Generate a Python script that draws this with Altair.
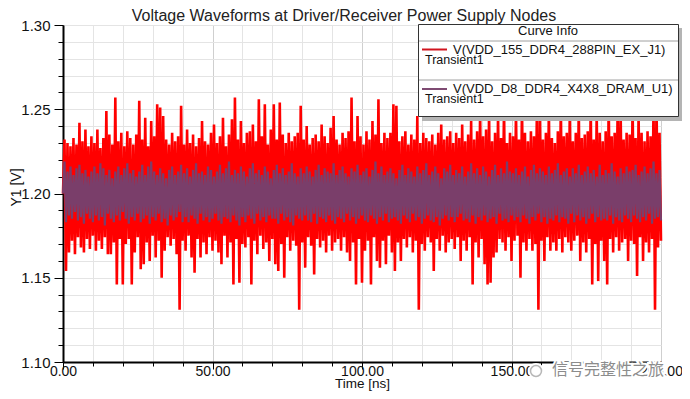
import altair as alt
import pandas as pd

# ---------------- data ----------------
x_ticks = [0, 10, 20, 30, 40, 50, 60, 70, 80, 90, 100, 110, 120, 130, 140, 150,
           160, 170, 180, 190, 200]
y_ticks = [1.10, 1.11, 1.12, 1.13, 1.14, 1.15, 1.16, 1.17, 1.18, 1.19, 1.20,
           1.21, 1.22, 1.23, 1.24, 1.25, 1.26, 1.27, 1.28, 1.29, 1.30]

start_value = 1.200

# red trace: local maxima (t = k + 0.5 ns) and minima (t = k + 1 ns)
red_high = [
    1.232, 1.230, 1.228, 1.233, 1.229, 1.242, 1.231, 1.238, 1.228, 1.234,
    1.230, 1.238, 1.227, 1.233, 1.249, 1.235, 1.229, 1.257, 1.231, 1.236,
    1.228, 1.237, 1.233, 1.229, 1.235, 1.255, 1.232, 1.245, 1.228, 1.243,
    1.234, 1.253, 1.251, 1.246, 1.232, 1.229, 1.236, 1.231, 1.234, 1.252,
    1.229, 1.238, 1.230, 1.235, 1.228, 1.233, 1.243, 1.231, 1.229, 1.236,
    1.241, 1.230, 1.234, 1.245, 1.228, 1.235, 1.244, 1.257, 1.232, 1.243,
    1.230, 1.236, 1.237, 1.241, 1.231, 1.256, 1.234, 1.253, 1.229, 1.238,
    1.253, 1.232, 1.254, 1.235, 1.230, 1.236, 1.231, 1.234, 1.236, 1.252,
    1.232, 1.240, 1.229, 1.233, 1.235, 1.231, 1.241, 1.234, 1.230, 1.239,
    1.246, 1.232, 1.229, 1.236, 1.233, 1.237, 1.257, 1.231, 1.246, 1.234,
    1.229, 1.237, 1.232, 1.243, 1.235, 1.256, 1.230, 1.236, 1.233, 1.236,
    1.253, 1.252, 1.231, 1.234, 1.237, 1.229, 1.235, 1.232, 1.246, 1.230,
    1.236, 1.233, 1.231, 1.235, 1.229, 1.236, 1.241, 1.232, 1.234, 1.237,
    1.230, 1.236, 1.233, 1.241, 1.231, 1.235, 1.243, 1.232, 1.237, 1.248,
    1.234, 1.238, 1.250, 1.231, 1.236, 1.247, 1.233, 1.252, 1.230, 1.236,
    1.234, 1.249, 1.232, 1.254, 1.236, 1.231, 1.237, 1.234, 1.251, 1.248,
    1.232, 1.236, 1.250, 1.233, 1.230, 1.237, 1.252, 1.234, 1.236, 1.249,
    1.231, 1.236, 1.251, 1.233, 1.235, 1.237, 1.253, 1.232, 1.248, 1.236,
    1.231, 1.237, 1.255, 1.234, 1.236, 1.250, 1.249, 1.232, 1.236, 1.235,
    1.252, 1.233, 1.247, 1.236, 1.231, 1.237, 1.234, 1.251, 1.254, 1.236,
]
red_low = [
    1.154, 1.165, 1.172, 1.164, 1.174, 1.168, 1.165, 1.173, 1.167, 1.175,
    1.166, 1.172, 1.167, 1.174, 1.164, 1.164, 1.171, 1.146, 1.173, 1.146,
    1.170, 1.173, 1.146, 1.165, 1.174, 1.155, 1.158, 1.171, 1.160, 1.175,
    1.162, 1.172, 1.150, 1.166, 1.174, 1.169, 1.173, 1.164, 1.131, 1.172,
    1.166, 1.175, 1.162, 1.153, 1.173, 1.162, 1.171, 1.164, 1.174, 1.166,
    1.172, 1.165, 1.158, 1.175, 1.162, 1.171, 1.146, 1.173, 1.147, 1.170,
    1.168, 1.174, 1.146, 1.172, 1.164, 1.175, 1.167, 1.171, 1.160, 1.173,
    1.158, 1.154, 1.170, 1.150, 1.174, 1.166, 1.172, 1.169, 1.131, 1.171,
    1.156, 1.174, 1.169, 1.152, 1.173, 1.168, 1.172, 1.165, 1.175, 1.166,
    1.171, 1.173, 1.166, 1.174, 1.165, 1.160, 1.171, 1.146, 1.173, 1.147,
    1.166, 1.172, 1.146, 1.174, 1.160, 1.156, 1.172, 1.158, 1.175, 1.165,
    1.154, 1.171, 1.160, 1.173, 1.168, 1.174, 1.165, 1.172, 1.131, 1.170,
    1.166, 1.174, 1.171, 1.154, 1.173, 1.166, 1.175, 1.165, 1.171, 1.173,
    1.167, 1.174, 1.160, 1.172, 1.166, 1.174, 1.146, 1.171, 1.162, 1.173,
    1.158, 1.146, 1.147, 1.162, 1.165, 1.173, 1.171, 1.166, 1.174, 1.160,
    1.172, 1.175, 1.150, 1.171, 1.166, 1.173, 1.166, 1.170, 1.131, 1.172,
    1.160, 1.174, 1.166, 1.171, 1.166, 1.173, 1.165, 1.174, 1.171, 1.166,
    1.172, 1.175, 1.160, 1.171, 1.165, 1.173, 1.146, 1.170, 1.148, 1.172,
    1.160, 1.146, 1.173, 1.165, 1.174, 1.166, 1.171, 1.173, 1.160, 1.172,
    1.170, 1.151, 1.174, 1.160, 1.171, 1.165, 1.173, 1.131, 1.168, 1.172,
]

# purple trace
purple_high = [
    1.219, 1.213, 1.216, 1.211, 1.215, 1.217, 1.212, 1.214, 1.210, 1.213,
    1.216, 1.212, 1.218, 1.215, 1.211, 1.214, 1.209, 1.213, 1.216, 1.211,
    1.215, 1.218, 1.212, 1.214, 1.210, 1.213, 1.217, 1.211, 1.216, 1.219,
    1.213, 1.211, 1.215, 1.212, 1.209, 1.214, 1.216, 1.211, 1.213, 1.217,
    1.212, 1.215, 1.210, 1.214, 1.218, 1.212, 1.213, 1.211, 1.216, 1.214,
    1.210, 1.213, 1.217, 1.212, 1.215, 1.219, 1.211, 1.214, 1.212, 1.216,
    1.213, 1.210, 1.215, 1.218, 1.212, 1.214, 1.211, 1.216, 1.213, 1.209,
    1.214, 1.217, 1.212, 1.215, 1.211, 1.213, 1.218, 1.212, 1.210, 1.215,
    1.212, 1.216, 1.213, 1.210, 1.214, 1.217, 1.211, 1.215, 1.213, 1.212,
    1.218, 1.211, 1.214, 1.216, 1.212, 1.210, 1.215, 1.213, 1.217, 1.211,
    1.213, 1.215, 1.210, 1.214, 1.219, 1.212, 1.216, 1.211, 1.213, 1.215,
    1.212, 1.209, 1.214, 1.217, 1.211, 1.215, 1.213, 1.210, 1.216, 1.212,
    1.214, 1.218, 1.211, 1.213, 1.216, 1.212, 1.209, 1.215, 1.213, 1.217,
    1.211, 1.214, 1.212, 1.216, 1.210, 1.213, 1.218, 1.212, 1.215, 1.211,
    1.216, 1.213, 1.210, 1.214, 1.217, 1.211, 1.215, 1.212, 1.219, 1.213,
    1.212, 1.215, 1.211, 1.213, 1.216, 1.210, 1.214, 1.217, 1.212, 1.215,
    1.213, 1.211, 1.216, 1.212, 1.214, 1.218, 1.211, 1.213, 1.215, 1.210,
    1.215, 1.212, 1.217, 1.211, 1.213, 1.216, 1.212, 1.214, 1.210, 1.217,
    1.211, 1.214, 1.212, 1.218, 1.213, 1.210, 1.215, 1.212, 1.216, 1.213,
    1.214, 1.217, 1.211, 1.213, 1.216, 1.212, 1.215, 1.219, 1.212, 1.214,
]
purple_low = [
    1.183, 1.187, 1.185, 1.189, 1.184, 1.186, 1.182, 1.188, 1.185, 1.183,
    1.187, 1.184, 1.186, 1.181, 1.188, 1.185, 1.183, 1.187, 1.184, 1.189,
    1.185, 1.182, 1.186, 1.184, 1.188, 1.183, 1.185, 1.187, 1.182, 1.186,
    1.184, 1.188, 1.183, 1.185, 1.181, 1.187, 1.184, 1.186, 1.189, 1.183,
    1.186, 1.183, 1.187, 1.185, 1.182, 1.188, 1.184, 1.186, 1.183, 1.185,
    1.188, 1.184, 1.182, 1.186, 1.185, 1.183, 1.187, 1.184, 1.181, 1.186,
    1.183, 1.187, 1.185, 1.182, 1.188, 1.184, 1.186, 1.183, 1.187, 1.185,
    1.185, 1.182, 1.188, 1.184, 1.186, 1.183, 1.181, 1.187, 1.185, 1.184,
    1.187, 1.184, 1.183, 1.188, 1.182, 1.186, 1.185, 1.183, 1.187, 1.184,
    1.182, 1.186, 1.185, 1.183, 1.188, 1.184, 1.186, 1.182, 1.185, 1.187,
    1.184, 1.183, 1.187, 1.185, 1.182, 1.186, 1.184, 1.188, 1.183, 1.185,
    1.186, 1.184, 1.182, 1.187, 1.185, 1.183, 1.188, 1.184, 1.186, 1.182,
    1.185, 1.187, 1.184, 1.183, 1.186, 1.181, 1.185, 1.187, 1.184, 1.186,
    1.183, 1.186, 1.188, 1.184, 1.185, 1.183, 1.187, 1.182, 1.186, 1.184,
    1.187, 1.183, 1.185, 1.186, 1.182, 1.188, 1.184, 1.185, 1.183, 1.187,
    1.184, 1.186, 1.183, 1.187, 1.185, 1.182, 1.186, 1.184, 1.188, 1.183,
    1.186, 1.182, 1.185, 1.184, 1.187, 1.183, 1.186, 1.185, 1.182, 1.188,
    1.183, 1.187, 1.184, 1.186, 1.182, 1.185, 1.188, 1.183, 1.186, 1.184,
    1.185, 1.184, 1.187, 1.182, 1.186, 1.184, 1.183, 1.187, 1.185, 1.183,
    1.187, 1.185, 1.183, 1.186, 1.184, 1.188, 1.182, 1.185, 1.186, 1.184,
]

title_text = "Voltage Waveforms at Driver/Receiver Power Supply Nodes"
legend_header = "Curve Info"
series_names = ["V(VDD_155_DDR4_288PIN_EX_J1)", "V(VDD_D8_DDR4_X4X8_DRAM_U1)"]
series_sub = "Transient1"
watermark = "信号完整性之旅"

RED = "#FF0000"
PURPLE = "#7A3E6A"
FONT = "Liberation Sans"


def build(name, highs, lows):
    rows = [{"t": 0.0, "v": start_value, "s": name}]
    for k, (h, lo) in enumerate(zip(highs, lows)):
        rows.append({"t": k + 0.5, "v": h, "s": name})
        rows.append({"t": k + 1.0, "v": lo, "s": name})
    return pd.DataFrame(rows)


red_df = build(series_names[0], red_high, red_low)
purple_df = build(series_names[1], purple_high, purple_low)
one = pd.DataFrame({"a": [0]})

x_enc = alt.X(
    "t:Q",
    scale=alt.Scale(domain=[0, 200], nice=False, zero=False),
    axis=alt.Axis(
        values=x_ticks,
        title="Time [ns]",
        titleFontSize=13.5,
        titleFontWeight="normal",
        titleX=299,
        titleY=25,
        titleBaseline="alphabetic",
        labelExpr="datum.value % 50 === 0 ? format(datum.value, '.2f') : ''",
        labelFontSize=14,
        labelFlush=False,
        labelOverlap=False,
        labelPadding=-5,
        tickSize={"condition": {"test": "datum.value % 50 === 0", "value": 7}, "value": 4},
        gridColor={"condition": {"test": "datum.value % 50 === 0", "value": "#cfcfcf"}, "value": "#e4e4e4"},
    ),
)
y_enc = alt.Y(
    "v:Q",
    scale=alt.Scale(domain=[1.10, 1.30], nice=False, zero=False),
    axis=alt.Axis(
        values=y_ticks,
        title="Y1 [V]",
        titleFontSize=14,
        titleFontWeight="normal",
        titleAngle=270,
        titleX=-47,
        titleY=162,
        titleAlign="center",
        titleBaseline="middle",
        labelExpr="round(datum.value * 100) % 5 === 0 ? format(datum.value, '.2f') : ''",
        labelFontSize=15,
        labelOverlap=False,
        labelPadding=4,
        tickSize={"condition": {"test": "round(datum.value * 100) % 5 === 0", "value": 9}, "value": 5},
        gridColor="#e4e4e4",
    ),
)

red_line = alt.Chart(red_df).mark_line(color=RED, strokeWidth=2.6).encode(
    x=x_enc, y=y_enc, order="t:Q"
)
purple_line = alt.Chart(purple_df).mark_line(color=PURPLE, strokeWidth=2.2).encode(
    x=x_enc, y=y_enc, order="t:Q"
)

base = alt.Chart(one)

title = base.mark_text(
    text=title_text, font=FONT, fontSize=16, align="center", baseline="alphabetic", color="#222"
).encode(x=alt.value(281), y=alt.value(-4))

# legend box ("Curve Info")
shadow = base.mark_rect(color="#b4b4b4").encode(
    x=alt.value(359), x2=alt.value(620), y=alt.value(3), y2=alt.value(96)
)
box = base.mark_rect(fill="white", stroke="#333333", strokeWidth=1).encode(
    x=alt.value(355.5), x2=alt.value(615.5), y=alt.value(-0.5), y2=alt.value(91.5)
)
sep1 = base.mark_rule(color="#a0a0a0", strokeWidth=1).encode(
    x=alt.value(356), x2=alt.value(615), y=alt.value(16)
)
sep2 = base.mark_rule(color="#a0a0a0", strokeWidth=1).encode(
    x=alt.value(356), x2=alt.value(615), y=alt.value(55)
)
sw1 = base.mark_rule(color="#D0141E", strokeWidth=2).encode(
    x=alt.value(359), x2=alt.value(384), y=alt.value(24.5)
)
sw2 = base.mark_rule(color="#7E4A72", strokeWidth=2).encode(
    x=alt.value(359), x2=alt.value(384), y=alt.value(64)
)
hdr = base.mark_text(text=legend_header, font=FONT, fontSize=13, align="center",
                     baseline="alphabetic", color="#111").encode(
    x=alt.value(485), y=alt.value(10))
t1 = base.mark_text(text=series_names[0], font=FONT, fontSize=13, align="left",
                    baseline="alphabetic", color="#111").encode(
    x=alt.value(390), y=alt.value(28.5))
s1 = base.mark_text(text=series_sub, font=FONT, fontSize=12.5, align="left",
                    baseline="alphabetic", color="#111").encode(
    x=alt.value(362), y=alt.value(38.5))
t2 = base.mark_text(text=series_names[1], font=FONT, fontSize=13, align="left",
                    baseline="alphabetic", color="#111").encode(
    x=alt.value(390), y=alt.value(67.5))
s2 = base.mark_text(text=series_sub, font=FONT, fontSize=12.5, align="left",
                    baseline="alphabetic", color="#111").encode(
    x=alt.value(362), y=alt.value(77.5))

# watermark
wm_halo = base.mark_text(text=watermark, font="Noto Sans CJK SC", fontSize=16, align="left",
                         baseline="middle", color="white", stroke="white", strokeWidth=4).encode(
    x=alt.value(489), y=alt.value(345))
wm = base.mark_text(text=watermark, font="Noto Sans CJK SC", fontSize=16, align="left",
                    baseline="middle", color="#8c8c8c").encode(
    x=alt.value(489), y=alt.value(345))
wm_icon_bg = base.mark_point(shape="circle", filled=True, color="white", size=260, opacity=1).encode(
    x=alt.value(473), y=alt.value(346))
wm_icon = base.mark_point(shape="circle", filled=False, color="#9a9a9a", size=120, strokeWidth=1.5).encode(
    x=alt.value(473), y=alt.value(346))

chart = alt.layer(
    red_line, purple_line, title,
    shadow, box, sep1, sep2, sw1, sw2, hdr, t1, s1, t2, s2,
    wm_icon_bg, wm_halo, wm_icon, wm,
).properties(
    width=598,
    height=337,
    autosize=alt.AutoSizeParams(type="none"),
    padding={"left": 55, "top": 17, "right": 21, "bottom": 29},
).configure_view(
    stroke="#000000", strokeWidth=1
).configure_axis(
    labelFont=FONT, titleFont=FONT, labelColor="#111", titleColor="#111",
    domainColor="#000000", domainWidth=2, tickColor="#000000", tickWidth=1,
    gridWidth=1,
)

chart.save("out.html", embed_options={"renderer": "svg", "actions": False})
